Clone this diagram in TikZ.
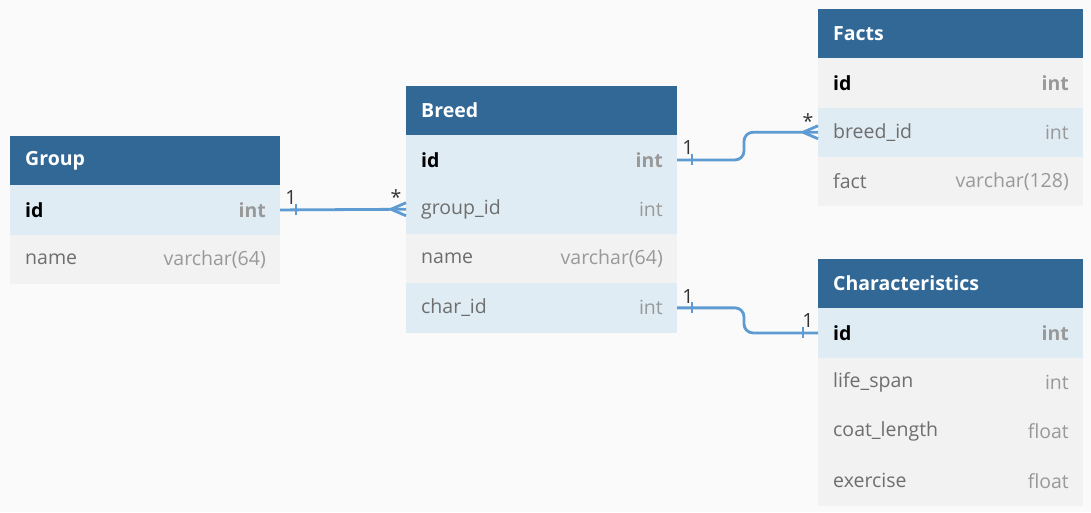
\documentclass[tikz,border=0pt]{standalone}
\usepackage{fontspec}
\setmainfont{Open Sans}
\definecolor{bgc}{HTML}{FAFAFA}
\definecolor{hdrc}{HTML}{316896}
\definecolor{lbc}{HTML}{DFECF4}
\definecolor{grc}{HTML}{F2F2F2}
\definecolor{namec}{HTML}{6E6E6E}
\definecolor{typec}{HTML}{999999}
\definecolor{conc}{HTML}{5E9BD2}
\definecolor{lblc}{HTML}{333333}
\tikzset{
  rowbox/.style={anchor=north west, minimum height=49.3pt, inner sep=0pt, outer sep=0pt, draw=none},
  hdr/.style={fill=hdrc},
  lb/.style={fill=lbc},
  gr/.style={fill=grc},
  hdrtxt/.style={anchor=west, text=white, font=\fontsize{19.5}{22}\selectfont\bfseries, inner sep=0pt},
  fieldtxt/.style={anchor=west, text=namec, font=\fontsize{19.5}{22}\selectfont, inner sep=0pt},
  typetxt/.style={anchor=east, text=typec, font=\fontsize{19.5}{22}\selectfont, inner sep=0pt},
  conn/.style={draw=conc, line width=2.8pt},
  card/.style={text=lblc, font=\fontsize{19.5}{22}\selectfont, inner sep=0pt}
}
\newcommand{\ehead}[5]{% name, x, y, width, title
  \node[rowbox,hdr,minimum width=#4] (#1) at (#2,#3) {};
  \node[hdrtxt] (#1-t) at ([xshift=15pt]#1.west) {#5};
}
\newcommand{\erow}[7]{% name, x, y, width, fill, field, type
  \node[rowbox,#5,minimum width=#4] (#1) at (#2,#3) {};
  \node[fieldtxt] (#1-f) at ([xshift=15pt]#1.west) {#6};
  \node[typetxt] (#1-t) at ([xshift=-14pt]#1.east) {#7};
}
\newcommand{\pk}[1]{\textcolor{black}{\bfseries #1}}
\newcommand{\pkt}[1]{{\bfseries #1}}
\begin{document}
\begin{tikzpicture}[x=1pt,y=-1pt]
\fill[bgc] (0,0) rectangle (1091,512);
\useasboundingbox (0,0) rectangle (1091,512);
% Group
\ehead{gh}{10}{136}{270pt}{Group}
\erow{g1}{10}{185.3}{270pt}{lb}{\pk{id}}{\pkt{int}}
\erow{g2}{10}{234.6}{270pt}{gr}{name}{varchar(64)}
% Breed
\ehead{bh}{406}{86}{271pt}{Breed}
\erow{b1}{406}{135.3}{271pt}{lb}{\pk{id}}{\pkt{int}}
\erow{b2}{406}{184.6}{271pt}{lb}{group\_id}{int}
\erow{b3}{406}{233.9}{271pt}{gr}{name}{varchar(64)}
\erow{b4}{406}{283.2}{271pt}{lb}{char\_id}{int}
% Facts
\ehead{fh}{818}{9}{265pt}{Facts}
\erow{f1}{818}{58.3}{265pt}{gr}{\pk{id}}{\pkt{int}}
\erow{f2}{818}{107.6}{265pt}{lb}{breed\_id}{int}
\erow{f3}{818}{156.9}{265pt}{gr}{fact}{varchar(128)}
% Characteristics
\ehead{ch}{818}{259}{265pt}{Characteristics}
\erow{c1}{818}{308.3}{265pt}{lb}{\pk{id}}{\pkt{int}}
\erow{c2}{818}{357.6}{265pt}{gr}{life\_span}{int}
\erow{c3}{818}{406.9}{265pt}{gr}{coat\_length}{float}
\erow{c4}{818}{456.2}{265pt}{gr}{exercise}{float}
% Connector Group.id -> Breed.group_id
\draw[conn] (g1.east) -- (b2.west);
\draw[conn] ([xshift=16pt,yshift=-5.5pt]g1.east) -- ([xshift=16pt,yshift=5.5pt]g1.east);
\draw[conn] ([xshift=-15pt]b2.west) -- ([yshift=-6.5pt]b2.west);
\draw[conn] ([xshift=-15pt]b2.west) -- ([yshift=6.5pt]b2.west);
\node[card] (l1) at (291,198) {1};
\node[card] (l2) at (396,197) {*};
% Connector Breed.id -> Facts.breed_id
\coordinate (p1) at (744,0);
\draw[conn, rounded corners=9pt] (b1.east) -- (b1.east -| p1) -- (f2.west -| p1) -- (f2.west);
\draw[conn] ([xshift=15pt,yshift=-5.5pt]b1.east) -- ([xshift=15pt,yshift=5.5pt]b1.east);
\draw[conn] ([xshift=-15pt]f2.west) -- ([yshift=-6.5pt]f2.west);
\draw[conn] ([xshift=-15pt]f2.west) -- ([yshift=6.5pt]f2.west);
\node[card] (l3) at (688,148) {1};
\node[card] (l4) at (808,121) {*};
% Connector Breed.char_id -> Characteristics.id
\draw[conn, rounded corners=9pt] (b4.east) -- (b4.east -| p1) -- (c1.west -| p1) -- (c1.west);
\draw[conn] ([xshift=15pt,yshift=-5.5pt]b4.east) -- ([xshift=15pt,yshift=5.5pt]b4.east);
\draw[conn] ([xshift=-15pt,yshift=-5.5pt]c1.west) -- ([xshift=-15pt,yshift=5.5pt]c1.west);
\node[card] (l5) at (688,297) {1};
\node[card] (l6) at (808,321) {1};
\end{tikzpicture}
\end{document}
